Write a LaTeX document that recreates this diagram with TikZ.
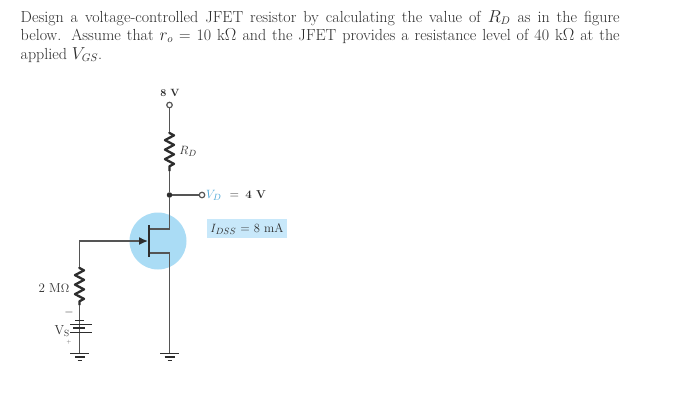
\documentclass[tikz,border=0pt]{standalone}
\usepackage{amsmath}
\usetikzlibrary{arrows.meta,decorations.pathmorphing}
\definecolor{wire}{RGB}{85,85,85}
\definecolor{ink}{RGB}{45,45,45}
\definecolor{fetblue}{RGB}{170,220,245}
\definecolor{boxblue}{RGB}{200,232,250}
\definecolor{vdblue}{RGB}{70,165,215}
\tikzset{
  x=1pt,y=-1pt,
  conn/.style={draw=wire,line width=1.5pt},
  res/.style={draw=ink,line width=2.3pt,line join=round,decorate,decoration={zigzag,segment length=9.5pt,amplitude=4.5pt,pre length=1pt,post length=1pt}},
  term/.style={circle,draw=wire,fill=white,line width=1.2pt,inner sep=0pt,minimum size=5.5pt},
  junction/.style={circle,fill=ink,inner sep=0pt,minimum size=5.5pt},
  para/.style={anchor=west,inner sep=0pt,text=ink,font=\fontsize{16}{18}\selectfont},
  lbl/.style={inner sep=0pt,text=ink,font=\fontsize{13}{15}\selectfont},
  plate/.style={draw=ink,line width=#1},
}
\begin{document}
\begin{tikzpicture}
\useasboundingbox (0,0) rectangle (700,408);
\fill[white] (0,0) rectangle (700,408);
% text
\node[para] (l1) at (20.5,18) {\makebox[599pt][s]{Design a voltage-controlled JFET resistor by calculating the value of $R_D$ as in the figure}};
\node[para] (l2) at (20.5,36) {\makebox[599pt][s]{below. Assume that $r_o$ = 10 k$\Omega$ and the JFET provides a resistance level of 40 k$\Omega$ at the}};
\node[para] (l3) at (20.5,55) {applied $V_{GS}$.};
% blue shapes
\node[circle,fill=fetblue,inner sep=0pt,minimum size=57pt] (fet) at (158,241) {};
\node[rectangle,fill=boxblue,inner sep=0pt,minimum width=80pt,minimum height=19pt] (idss) at (247,228.5) {};
\node[lbl,font=\fontsize{12.5}{15}\selectfont] (idsst) at (247,229) {$I_{DSS}$ = 8 mA};
% coordinates
\node[term] (vdd) at (169.5,105) {};
\node[lbl,font=\bfseries\fontsize{10.5}{12}\selectfont] (vddl) at (170,93) {8 V};
\coordinate (rdt) at (169.5,132);
\coordinate (rdb) at (169.5,171);
\node[junction] (vdj) at (169.5,195) {};
\node[term] (vdt) at (202,195) {};
\node[lbl,anchor=west,font=\fontsize{12.5}{15}\selectfont] (vdl) at (206,195.5) {\textcolor{vdblue}{$V_D$}\,\, =\,\,\,\fontsize{11.5}{13}\selectfont\textbf{4 V}};
\node[lbl] (rdl) at (188,151) {$R_D$};
\coordinate (dr) at (169.5,229);
\coordinate (so) at (169.5,253);
\coordinate (drg) at (149,229);
\coordinate (sog) at (149,253);
\coordinate (gbt) at (149,225);
\coordinate (gbb) at (149,257);
\coordinate (gate) at (148,241);
\coordinate (gc) at (79.5,241);
\coordinate (rgt) at (79.5,267);
\coordinate (rgb) at (79.5,305);
\coordinate (bt) at (79.5,320);
\coordinate (bb) at (79.5,353);
\coordinate (gs) at (169.5,353);
% wires
\draw[conn] (vdd) -- (rdt);
\draw[res] (rdt) -- (rdb);
\draw[conn] (rdb) -- (vdj) -- (dr) -- (drg);
\draw[conn] (vdj) -- (vdt);
\draw[conn] (sog) -- (so) -- (gs);
\draw[ink,line width=2.8pt] (gbt) -- (gbb);
\draw[conn,-{Latex[length=9pt,width=8pt,color=ink]}] (rgt) -- (gc) -- (gate);
\draw[res] (rgt) -- (rgb);
\draw[conn] (rgb) -- (bt);
\draw[conn] (bt) -- (bb);
% battery
\draw[plate=1.8pt] (75,320.5) -- (84,320.5);
\draw[plate=1pt] (70,324.5) -- (92,324.5);
\draw[plate=2.2pt] (73,328) -- (85,328);
\draw[plate=1pt] (70,332.5) -- (92,332.5);
% grounds
\draw[plate=1.8pt] (70,353.5) -- (89,353.5);
\draw[plate=1.8pt] (75,357) -- (85,357);
\draw[plate=1.8pt] (77.5,360.5) -- (82,360.5);
\draw[plate=1.8pt] (160,353.5) -- (179,353.5);
\draw[plate=1.8pt] (164.5,357) -- (175,357);
\draw[plate=1.8pt] (167.5,360.5) -- (172,360.5);
% labels
\node[lbl] (rgl) at (54,288) {2 M$\Omega$};
\node[lbl] (minus) at (69,312) {$-$};
\node[lbl] (vs) at (62,331) {V\raisebox{-1.5pt}{\small S}};
\node[lbl,font=\tiny,text=wire] (plus) at (69,342) {+};
\end{tikzpicture}
\end{document}
